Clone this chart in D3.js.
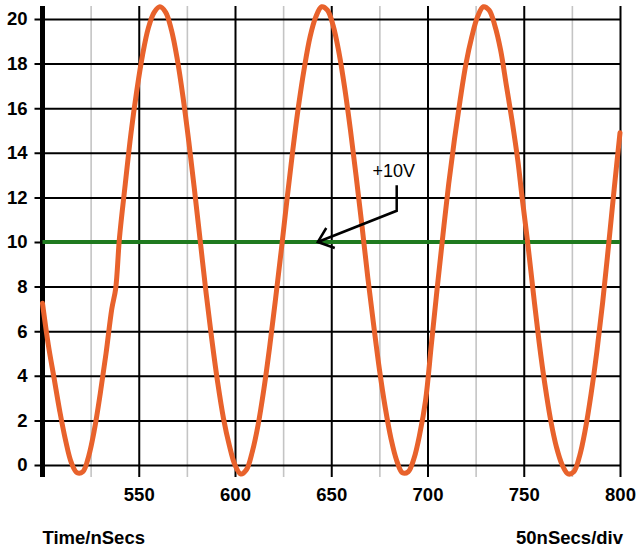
<!DOCTYPE html>
<html>
<head>
<meta charset="utf-8">
<script src="https://cdn.jsdelivr.net/npm/d3@7"></script>
<style>
  body { margin: 0; background: #fff; }
  svg { display: block; font-family: "Liberation Sans", Arial, sans-serif; }
</style>
</head>
<body>
<div id="chart"></div>
<script>
const timeNs = [
  500, 503, 506, 509, 512, 515, 518, 521, 524, 527, 530, 533, 536, 538, 540, 543, 546, 549, 552, 555,
  558, 561, 564, 567, 570, 573, 576, 579, 582, 585, 588, 591, 594, 597, 600, 603, 606, 609, 612, 615,
  618, 621, 624, 627, 630, 633, 636, 639, 642, 645, 648, 651, 654, 657, 660, 663, 666, 669, 672, 675,
  678, 681, 684, 687, 690, 693, 696, 699, 702, 705, 708, 711, 714, 717, 720, 723, 726, 729, 732, 735,
  738, 741, 744, 747, 749, 752, 755, 758, 761, 764, 767, 770, 773, 776, 779, 782, 785, 788, 791, 794,
  797, 800
];
const volts = [
  7.25, 5.4, 3.9, 2.4, 1.1, 0.1, -0.35, -0.3, 0.4, 1.6, 3.2, 5.0, 7.0, 7.9, 10.2, 12.6, 14.9, 16.8, 18.4, 19.6,
  20.3, 20.55, 20.3, 19.5, 18.2, 16.5, 14.5, 12.3, 10.0, 7.7, 5.6, 3.7, 2.1, 0.9, 0.0, -0.4, -0.2, 0.6, 1.8, 3.4,
  5.3, 7.4, 9.6, 11.9, 14.1, 16.1, 17.8, 19.2, 20.1, 20.55, 20.4, 19.7, 18.5, 16.9, 15.0, 12.9, 10.7, 8.4, 6.3, 4.3,
  2.6, 1.2, 0.2, -0.35, -0.3, 0.3, 1.4, 2.9, 5.4, 7.9, 10.3, 12.6, 14.6, 16.4, 18.0, 19.2, 20.1, 20.55, 20.4, 19.7,
  18.6, 17.0, 15.4, 13.6, 12.1, 10.0, 7.7, 5.5, 3.6, 2.0, 0.8, 0.0, -0.4, -0.3, 0.4, 1.6, 3.2, 5.1, 7.3, 9.8,
  12.4, 14.9
];

const yTicks = [0, 2, 4, 6, 8, 10, 12, 14, 16, 18, 20];
const xTicks = [525, 550, 575, 600, 625, 650, 675, 700, 725, 750, 775, 800];
const refLevel = 10;
const refLabel = '+10V';
const xTitle = 'Time/nSecs';
const xScaleNote = '50nSecs/div';

const width = 642;
const height = 550;

const x = d3.scaleLinear().domain([500, 800]).range([42.5, 620]);
const y = d3.scaleLinear().domain([0, 20]).range([465, 19]);
const yTop = y(20.58);
const yBottom = y(-0.54);

const svg = d3.select('#chart')
  .append('svg')
  .attr('width', width)
  .attr('height', height)
  .attr('viewBox', `0 0 ${width} ${height}`);

// vertical grid + x labels
const xAxis = svg.append('g')
  .attr('transform', `translate(0,${yBottom})`)
  .call(d3.axisBottom(x)
    .tickValues(xTicks)
    .tickSizeInner(-(yBottom - yTop))
    .tickSizeOuter(0)
    .tickPadding(11)
    .tickFormat(d => d % 50 === 0 ? d : ''));
xAxis.select('.domain').remove();
xAxis.selectAll('.tick line')
  .attr('stroke', d => d % 50 === 0 ? '#000' : '#c4c4c4')
  .attr('stroke-width', d => d % 50 === 0 ? 2 : 1.6);
xAxis.selectAll('.tick text')
  .attr('fill', '#000')
  .attr('font-size', '18.5px')
  .attr('font-weight', 'bold');

// horizontal grid + y labels
const yAxis = svg.append('g')
  .attr('transform', `translate(${x(500)},0)`)
  .call(d3.axisLeft(y)
    .tickValues(yTicks)
    .tickSizeInner(-(x(800) - x(500)))
    .tickSizeOuter(0)
    .tickPadding(15));
yAxis.select('.domain').remove();
yAxis.selectAll('.tick line')
  .attr('x1', -8)
  .attr('stroke', '#000')
  .attr('stroke-width', 2);
yAxis.selectAll('.tick text')
  .attr('fill', '#000')
  .attr('font-size', '18.5px')
  .attr('font-weight', 'bold');

// thick left axis
svg.append('line')
  .attr('x1', x(500)).attr('x2', x(500))
  .attr('y1', yTop).attr('y2', yBottom)
  .attr('stroke', '#000')
  .attr('stroke-width', 5);

// +10V reference line
svg.append('line')
  .attr('x1', x(500)).attr('x2', x(800))
  .attr('y1', y(refLevel)).attr('y2', y(refLevel))
  .attr('stroke', '#1f7a1f')
  .attr('stroke-width', 4);

// waveform
const points = timeNs.map((t, i) => [t, volts[i]]);
const line = d3.line()
  .x(d => x(d[0]))
  .y(d => y(d[1]))
  .curve(d3.curveCatmullRom.alpha(0.5));

svg.append('path')
  .datum(points)
  .attr('d', line)
  .attr('fill', 'none')
  .attr('stroke', '#e8622c')
  .attr('stroke-width', 5)
  .attr('stroke-linejoin', 'round')
  .attr('stroke-linecap', 'round');

// annotation arrow
const tip = [x(643), y(refLevel)];
const elbow = [x(684), y(11.4)];
const tail = [x(684), y(12.55)];
svg.append('path')
  .attr('d', `M${tail[0]},${tail[1]}L${elbow[0]},${elbow[1]}L${tip[0]},${tip[1]}`)
  .attr('fill', 'none')
  .attr('stroke', '#000')
  .attr('stroke-width', 2.5);
svg.append('path')
  .attr('d', `M${tip[0] + 8.5},${tip[1] - 14}L${tip[0]},${tip[1]}L${tip[0] + 17},${tip[1] + 6}`)
  .attr('fill', 'none')
  .attr('stroke', '#000')
  .attr('stroke-width', 2.5);
svg.append('text')
  .attr('x', x(684) - 3)
  .attr('y', y(12.9))
  .attr('text-anchor', 'middle')
  .attr('font-size', '18px')
  .attr('fill', '#000')
  .text(refLabel);

// bottom titles
svg.append('text')
  .attr('x', x(500))
  .attr('y', 544)
  .attr('font-size', '18.5px')
  .attr('font-weight', 'bold')
  .text(xTitle);
svg.append('text')
  .attr('x', 623)
  .attr('y', 544)
  .attr('text-anchor', 'end')
  .attr('font-size', '18.5px')
  .attr('font-weight', 'bold')
  .text(xScaleNote);
</script>
</body>
</html>
